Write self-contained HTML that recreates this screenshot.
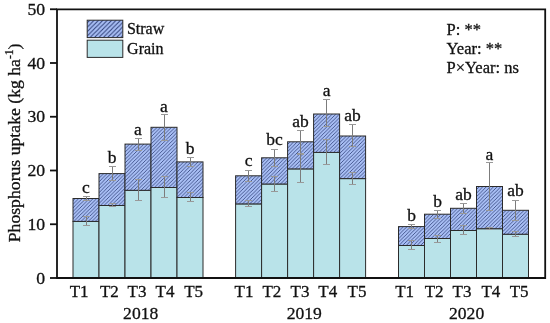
<!DOCTYPE html>
<html><head><meta charset="utf-8"><style>
html,body{margin:0;padding:0;background:#fff;}
svg{display:block;}
text{font-family:"Liberation Serif","Times New Roman",serif;fill:#111;stroke:#111;stroke-width:0.3px;}
.lt{font-size:17.5px;}
.xt{font-size:17px;}
.yr{font-size:17.6px;}
.yt{font-size:17.7px;}
.lg{font-size:16px;}
.an{font-size:16.5px;}
.ttl{font-size:17.7px;}
</style></head><body>
<svg width="550" height="323" viewBox="0 0 550 323">
<defs>
<pattern id="hatch" patternUnits="userSpaceOnUse" width="3.6" height="3.6">
<rect width="3.6" height="3.6" fill="#a9bff5"/>
<path d="M-1 1L1 -1M0 3.6L3.6 0M2.6 4.6L4.6 2.6" stroke="#2e3f78" stroke-width="0.8"/>
</pattern>
<pattern id="hatchL" patternUnits="userSpaceOnUse" width="4.4" height="4.4">
<rect width="4.4" height="4.4" fill="#a9bff5"/>
<path d="M-1 1L1 -1M0 4.4L4.4 0M3.4000000000000004 5.4L5.4 3.4000000000000004" stroke="#2e3f78" stroke-width="1.05"/>
</pattern>
</defs>
<rect width="550" height="323" fill="#fff"/>
<rect x="73.00" y="221.40" width="26.00" height="56.60" fill="#b9e3e9" stroke="#2b2b2b" stroke-width="1"/>
<rect x="73.00" y="198.50" width="26.00" height="22.90" fill="url(#hatch)" stroke="#2b2b2b" stroke-width="1"/>
<path d="M86.50 196.50V200.50" stroke="#7c7c7c" stroke-width="1" fill="none"/><path d="M83.00 196.50H90.00M83.00 200.50H90.00" stroke="#999999" stroke-width="1" fill="none"/>
<path d="M86.50 216.50V225.50" stroke="#7c7c7c" stroke-width="1" fill="none"/><path d="M83.00 216.50H90.00M83.00 225.50H90.00" stroke="#999999" stroke-width="1" fill="none"/>
<text x="86.00" y="192.50" text-anchor="middle" class="lt">c</text>
<rect x="99.00" y="205.50" width="26.00" height="72.50" fill="#b9e3e9" stroke="#2b2b2b" stroke-width="1"/>
<rect x="99.00" y="173.60" width="26.00" height="31.90" fill="url(#hatch)" stroke="#2b2b2b" stroke-width="1"/>
<path d="M112.50 166.50V180.50" stroke="#7c7c7c" stroke-width="1" fill="none"/><path d="M109.00 166.50H116.00M109.00 180.50H116.00" stroke="#999999" stroke-width="1" fill="none"/>
<path d="M112.50 203.50V206.50" stroke="#7c7c7c" stroke-width="1" fill="none"/><path d="M109.00 203.50H116.00M109.00 206.50H116.00" stroke="#999999" stroke-width="1" fill="none"/>
<text x="112.00" y="163.20" text-anchor="middle" class="lt">b</text>
<rect x="125.00" y="190.30" width="26.00" height="87.70" fill="#b9e3e9" stroke="#2b2b2b" stroke-width="1"/>
<rect x="125.00" y="144.10" width="26.00" height="46.20" fill="url(#hatch)" stroke="#2b2b2b" stroke-width="1"/>
<path d="M138.50 138.50V150.50" stroke="#7c7c7c" stroke-width="1" fill="none"/><path d="M135.00 138.50H142.00M135.00 150.50H142.00" stroke="#999999" stroke-width="1" fill="none"/>
<path d="M138.50 179.50V200.50" stroke="#7c7c7c" stroke-width="1" fill="none"/><path d="M135.00 179.50H142.00M135.00 200.50H142.00" stroke="#999999" stroke-width="1" fill="none"/>
<text x="138.00" y="134.50" text-anchor="middle" class="lt">a</text>
<rect x="151.00" y="187.50" width="26.00" height="90.50" fill="#b9e3e9" stroke="#2b2b2b" stroke-width="1"/>
<rect x="151.00" y="127.30" width="26.00" height="60.20" fill="url(#hatch)" stroke="#2b2b2b" stroke-width="1"/>
<path d="M164.50 114.50V140.50" stroke="#7c7c7c" stroke-width="1" fill="none"/><path d="M161.00 114.50H168.00M161.00 140.50H168.00" stroke="#999999" stroke-width="1" fill="none"/>
<path d="M164.50 176.50V197.50" stroke="#7c7c7c" stroke-width="1" fill="none"/><path d="M161.00 176.50H168.00M161.00 197.50H168.00" stroke="#999999" stroke-width="1" fill="none"/>
<text x="164.00" y="111.60" text-anchor="middle" class="lt">a</text>
<rect x="177.00" y="197.50" width="26.00" height="80.50" fill="#b9e3e9" stroke="#2b2b2b" stroke-width="1"/>
<rect x="177.00" y="161.90" width="26.00" height="35.60" fill="url(#hatch)" stroke="#2b2b2b" stroke-width="1"/>
<path d="M190.50 157.50V166.50" stroke="#7c7c7c" stroke-width="1" fill="none"/><path d="M187.00 157.50H194.00M187.00 166.50H194.00" stroke="#999999" stroke-width="1" fill="none"/>
<path d="M190.50 192.50V201.50" stroke="#7c7c7c" stroke-width="1" fill="none"/><path d="M187.00 192.50H194.00M187.00 201.50H194.00" stroke="#999999" stroke-width="1" fill="none"/>
<text x="190.00" y="154.00" text-anchor="middle" class="lt">b</text>
<text x="69.65" y="297.3" class="xt">T1</text>
<text x="99.90" y="297.3" class="xt">T2</text>
<text x="127.50" y="297.3" class="xt">T3</text>
<text x="155.60" y="297.3" class="xt">T4</text>
<text x="184.20" y="297.3" class="xt">T5</text>
<text x="123.10" y="318.9" class="yr">2018</text>
<rect x="235.60" y="203.90" width="26.00" height="74.10" fill="#b9e3e9" stroke="#2b2b2b" stroke-width="1"/>
<rect x="235.60" y="175.80" width="26.00" height="28.10" fill="url(#hatch)" stroke="#2b2b2b" stroke-width="1"/>
<path d="M248.50 170.50V181.50" stroke="#7c7c7c" stroke-width="1" fill="none"/><path d="M245.00 170.50H252.00M245.00 181.50H252.00" stroke="#999999" stroke-width="1" fill="none"/>
<path d="M248.50 200.50V206.50" stroke="#7c7c7c" stroke-width="1" fill="none"/><path d="M245.00 200.50H252.00M245.00 206.50H252.00" stroke="#999999" stroke-width="1" fill="none"/>
<text x="248.60" y="166.10" text-anchor="middle" class="lt">c</text>
<rect x="261.60" y="184.00" width="26.00" height="94.00" fill="#b9e3e9" stroke="#2b2b2b" stroke-width="1"/>
<rect x="261.60" y="157.80" width="26.00" height="26.20" fill="url(#hatch)" stroke="#2b2b2b" stroke-width="1"/>
<path d="M274.50 149.50V166.50" stroke="#7c7c7c" stroke-width="1" fill="none"/><path d="M271.00 149.50H278.00M271.00 166.50H278.00" stroke="#999999" stroke-width="1" fill="none"/>
<path d="M274.50 176.50V191.50" stroke="#7c7c7c" stroke-width="1" fill="none"/><path d="M271.00 176.50H278.00M271.00 191.50H278.00" stroke="#999999" stroke-width="1" fill="none"/>
<text x="274.60" y="144.80" text-anchor="middle" class="lt">bc</text>
<rect x="287.60" y="168.90" width="26.00" height="109.10" fill="#b9e3e9" stroke="#2b2b2b" stroke-width="1"/>
<rect x="287.60" y="141.80" width="26.00" height="27.10" fill="url(#hatch)" stroke="#2b2b2b" stroke-width="1"/>
<path d="M300.50 130.50V154.50" stroke="#7c7c7c" stroke-width="1" fill="none"/><path d="M297.00 130.50H304.00M297.00 154.50H304.00" stroke="#999999" stroke-width="1" fill="none"/>
<path d="M300.50 153.50V182.50" stroke="#7c7c7c" stroke-width="1" fill="none"/><path d="M297.00 153.50H304.00M297.00 182.50H304.00" stroke="#999999" stroke-width="1" fill="none"/>
<text x="300.60" y="126.70" text-anchor="middle" class="lt">ab</text>
<rect x="313.60" y="152.40" width="26.00" height="125.60" fill="#b9e3e9" stroke="#2b2b2b" stroke-width="1"/>
<rect x="313.60" y="114.00" width="26.00" height="38.40" fill="url(#hatch)" stroke="#2b2b2b" stroke-width="1"/>
<path d="M326.50 99.50V126.50" stroke="#7c7c7c" stroke-width="1" fill="none"/><path d="M323.00 99.50H330.00M323.00 126.50H330.00" stroke="#999999" stroke-width="1" fill="none"/>
<path d="M326.50 139.50V164.50" stroke="#7c7c7c" stroke-width="1" fill="none"/><path d="M323.00 139.50H330.00M323.00 164.50H330.00" stroke="#999999" stroke-width="1" fill="none"/>
<text x="326.60" y="96.10" text-anchor="middle" class="lt">a</text>
<rect x="339.60" y="178.60" width="26.00" height="99.40" fill="#b9e3e9" stroke="#2b2b2b" stroke-width="1"/>
<rect x="339.60" y="136.00" width="26.00" height="42.60" fill="url(#hatch)" stroke="#2b2b2b" stroke-width="1"/>
<path d="M352.50 124.50V146.50" stroke="#7c7c7c" stroke-width="1" fill="none"/><path d="M349.00 124.50H356.00M349.00 146.50H356.00" stroke="#999999" stroke-width="1" fill="none"/>
<path d="M352.50 172.50V184.50" stroke="#7c7c7c" stroke-width="1" fill="none"/><path d="M349.00 172.50H356.00M349.00 184.50H356.00" stroke="#999999" stroke-width="1" fill="none"/>
<text x="352.60" y="120.50" text-anchor="middle" class="lt">ab</text>
<text x="234.60" y="297.3" class="xt">T1</text>
<text x="262.40" y="297.3" class="xt">T2</text>
<text x="290.50" y="297.3" class="xt">T3</text>
<text x="318.30" y="297.3" class="xt">T4</text>
<text x="347.50" y="297.3" class="xt">T5</text>
<text x="286.70" y="318.9" class="yr">2019</text>
<rect x="398.50" y="245.50" width="26.00" height="32.50" fill="#b9e3e9" stroke="#2b2b2b" stroke-width="1"/>
<rect x="398.50" y="226.60" width="26.00" height="18.90" fill="url(#hatch)" stroke="#2b2b2b" stroke-width="1"/>
<path d="M411.50 224.50V228.50" stroke="#7c7c7c" stroke-width="1" fill="none"/><path d="M408.00 224.50H415.00M408.00 228.50H415.00" stroke="#999999" stroke-width="1" fill="none"/>
<path d="M411.50 240.50V249.50" stroke="#7c7c7c" stroke-width="1" fill="none"/><path d="M408.00 240.50H415.00M408.00 249.50H415.00" stroke="#999999" stroke-width="1" fill="none"/>
<text x="411.50" y="221.20" text-anchor="middle" class="lt">b</text>
<rect x="424.50" y="238.50" width="26.00" height="39.50" fill="#b9e3e9" stroke="#2b2b2b" stroke-width="1"/>
<rect x="424.50" y="214.20" width="26.00" height="24.30" fill="url(#hatch)" stroke="#2b2b2b" stroke-width="1"/>
<path d="M437.50 210.50V218.50" stroke="#7c7c7c" stroke-width="1" fill="none"/><path d="M434.00 210.50H441.00M434.00 218.50H441.00" stroke="#999999" stroke-width="1" fill="none"/>
<path d="M437.50 235.50V242.50" stroke="#7c7c7c" stroke-width="1" fill="none"/><path d="M434.00 235.50H441.00M434.00 242.50H441.00" stroke="#999999" stroke-width="1" fill="none"/>
<text x="437.50" y="207.20" text-anchor="middle" class="lt">b</text>
<rect x="450.50" y="230.50" width="26.00" height="47.50" fill="#b9e3e9" stroke="#2b2b2b" stroke-width="1"/>
<rect x="450.50" y="208.30" width="26.00" height="22.20" fill="url(#hatch)" stroke="#2b2b2b" stroke-width="1"/>
<path d="M463.50 203.50V213.50" stroke="#7c7c7c" stroke-width="1" fill="none"/><path d="M460.00 203.50H467.00M460.00 213.50H467.00" stroke="#999999" stroke-width="1" fill="none"/>
<path d="M463.50 225.50V234.50" stroke="#7c7c7c" stroke-width="1" fill="none"/><path d="M460.00 225.50H467.00M460.00 234.50H467.00" stroke="#999999" stroke-width="1" fill="none"/>
<text x="463.50" y="200.00" text-anchor="middle" class="lt">ab</text>
<rect x="476.50" y="228.70" width="26.00" height="49.30" fill="#b9e3e9" stroke="#2b2b2b" stroke-width="1"/>
<rect x="476.50" y="186.50" width="26.00" height="42.20" fill="url(#hatch)" stroke="#2b2b2b" stroke-width="1"/>
<path d="M489.50 162.50V210.50" stroke="#7c7c7c" stroke-width="1" fill="none"/><path d="M486.00 162.50H493.00M486.00 210.50H493.00" stroke="#999999" stroke-width="1" fill="none"/>
<path d="M489.50 227.50V229.50" stroke="#7c7c7c" stroke-width="1" fill="none"/><path d="M486.00 227.50H493.00M486.00 229.50H493.00" stroke="#999999" stroke-width="1" fill="none"/>
<text x="489.50" y="159.50" text-anchor="middle" class="lt">a</text>
<rect x="502.50" y="234.20" width="26.00" height="43.80" fill="#b9e3e9" stroke="#2b2b2b" stroke-width="1"/>
<rect x="502.50" y="210.30" width="26.00" height="23.90" fill="url(#hatch)" stroke="#2b2b2b" stroke-width="1"/>
<path d="M515.50 200.50V220.50" stroke="#7c7c7c" stroke-width="1" fill="none"/><path d="M512.00 200.50H519.00M512.00 220.50H519.00" stroke="#999999" stroke-width="1" fill="none"/>
<path d="M515.50 231.50V236.50" stroke="#7c7c7c" stroke-width="1" fill="none"/><path d="M512.00 231.50H519.00M512.00 236.50H519.00" stroke="#999999" stroke-width="1" fill="none"/>
<text x="515.50" y="196.10" text-anchor="middle" class="lt">ab</text>
<text x="395.20" y="297.3" class="xt">T1</text>
<text x="424.70" y="297.3" class="xt">T2</text>
<text x="452.50" y="297.3" class="xt">T3</text>
<text x="481.40" y="297.3" class="xt">T4</text>
<text x="509.70" y="297.3" class="xt">T5</text>
<text x="449.00" y="318.9" class="yr">2020</text>
<path d="M57 9.3H545.2V278H57Z" fill="none" stroke="#111" stroke-width="1.8"/>
<path d="M50 278.00H57" stroke="#111" stroke-width="1.8"/><text x="45.2" y="283.60" text-anchor="end" class="yt">0</text><path d="M50 224.25H57" stroke="#111" stroke-width="1.8"/><text x="45.2" y="229.85" text-anchor="end" class="yt">10</text><path d="M50 170.50H57" stroke="#111" stroke-width="1.8"/><text x="45.2" y="176.10" text-anchor="end" class="yt">20</text><path d="M50 116.75H57" stroke="#111" stroke-width="1.8"/><text x="45.2" y="122.35" text-anchor="end" class="yt">30</text><path d="M50 63.00H57" stroke="#111" stroke-width="1.8"/><text x="45.2" y="68.60" text-anchor="end" class="yt">40</text><path d="M50 9.25H57" stroke="#111" stroke-width="1.8"/><text x="45.2" y="14.85" text-anchor="end" class="yt">50</text>
<rect x="87.2" y="20.2" width="35.6" height="17.4" fill="url(#hatchL)" stroke="#2b2b2b" stroke-width="1"/>
<rect x="87.2" y="40.2" width="35.6" height="17.2" fill="#b9e3e9" stroke="#2b2b2b" stroke-width="1"/>
<text x="126.9" y="33.8" class="lg">Straw</text>
<text x="127.1" y="53.8" class="lg">Grain</text>
<text x="446.6" y="34.5" class="an">P: **</text>
<text x="446.6" y="53.9" class="an">Year: **</text>
<text x="446.6" y="72.9" class="an">P×Year: ns</text>
<text transform="translate(19.5 242.3) rotate(-90)" class="ttl">Phosphorus uptake (kg ha<tspan dy="-7" font-size="11.5">-1</tspan><tspan dy="7">)</tspan></text>
</svg>
</body></html>
